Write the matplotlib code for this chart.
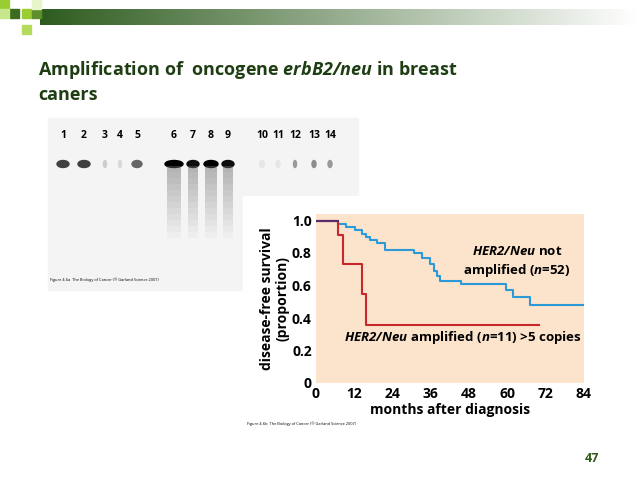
import numpy as np
import matplotlib.pyplot as plt
from matplotlib.patches import Rectangle, Ellipse

# survival data (months, proportion)
blue_t = [0, 7, 9.4, 12.2, 14.3, 15.6, 17, 19, 21.6, 30.7, 33.3, 35.7, 37, 38, 38.8, 45.6, 59.7, 61.8, 67, 84]
blue_s = [1.0, 0.98, 0.96, 0.94, 0.92, 0.90, 0.88, 0.86, 0.82, 0.80, 0.77, 0.73, 0.69, 0.66, 0.63, 0.61, 0.57, 0.53, 0.48, 0.48]
red_t = [0, 7, 8.6, 14.3, 15.6, 69.8]
red_s = [1.0, 0.91, 0.73, 0.55, 0.36, 0.36]
xticks = [0, 12, 24, 36, 48, 60, 72, 84]
yticks = [0, 0.2, 0.4, 0.6, 0.8, 1.0]
ytick_labels = ['0', '0.2', '0.4', '0.6', '0.8', '1.0']

lanes = ['1', '2', '3', '4', '5', '6', '7', '8', '9', '10', '11', '12', '13', '14']
lane_x = [63, 84, 105, 120, 137, 174, 193, 211, 228, 262, 278, 295, 314, 330]
band_w = [12, 12, 3, 3, 10, 18, 12, 14, 12, 5, 4, 3, 4, 4]
band_dark = [0.75, 0.75, 0.2, 0.15, 0.6, 1.0, 0.95, 1.0, 0.95, 0.1, 0.1, 0.4, 0.45, 0.4]

plt.rcParams['font.family'] = ['Open Sans', 'DejaVu Sans']
plt.rcParams['mathtext.fontset'] = 'custom'
plt.rcParams['mathtext.rm'] = 'Open Sans'
plt.rcParams['mathtext.bf'] = 'Open Sans:bold'
plt.rcParams['mathtext.bfit'] = 'Open Sans:italic:bold'
plt.rcParams['mathtext.it'] = 'Open Sans:italic'
W, H = 638, 478
fig = plt.figure(figsize=(W / 100, H / 100), dpi=100)
fig.patch.set_facecolor('white')

# background overlay in pixel coords
bg = fig.add_axes([0, 0, 1, 1])
bg.set_xlim(0, W)
bg.set_ylim(H, 0)
bg.axis('off')

# header gradient bar
grad = np.linspace(0, 1, 256)
cols = np.zeros((1, 256, 3))
c0 = np.array([0.18, 0.36, 0.12])
for i, g in enumerate(grad):
    cols[0, i] = c0 * (1 - g) + np.array([1, 1, 1]) * g
bg.imshow(cols, extent=[40, 638, 25, 9], aspect='auto')
for (x, y, c) in [(0, 0, '#9ACD32'), (10, 9, '#3A6B1E'), (22, 9, '#9ACD32'), (32, 9, '#5E8F2A'),
                  (22, 25, '#B5DB5C'), (32, 0, '#E8F5C8'), (0, 9, '#C8E68A')]:
    bg.add_patch(Rectangle((x, y), 9, 9, color=c))

bg.text(38, 70, 'Amplification of  oncogene $\\mathbfit{erbB2/neu}$ in breast',
        fontsize=13, fontweight='bold', color='#1E3D12', va='center')
bg.text(38, 95, 'caners', fontsize=13, fontweight='bold', color='#1E3D12', va='center')

# blot image
bg.add_patch(Rectangle((48, 118), 310, 172, color='#F4F4F4'))
for lab, x, w, d in zip(lanes, lane_x, band_w, band_dark):
    bg.text(x, 136, lab, fontsize=7.5, fontweight='bold', ha='center', va='center')
    g = 1 - d
    bg.add_patch(Ellipse((x, 164), w, 7, color=(g, g, g)))
    if d > 0.9:
        for k in range(12):
            bg.add_patch(Rectangle((x - w / 2.5, 166 + k * 6), w / 1.25, 6,
                                   color=(0.4, 0.4, 0.4), alpha=0.45 * (1 - k / 12), lw=0))
bg.text(50, 281, 'Figure 4-6a  The Biology of Cancer (© Garland Science 2007)', fontsize=2.8)

# white panel behind chart
bg.add_patch(Rectangle((243, 196), 356, 236, color='white'))
bg.text(247, 425, 'Figure 4-6b  The Biology of Cancer (© Garland Science 2007)', fontsize=2.8)
bg.text(592, 458, '47', fontsize=9, fontweight='bold', color='#2E5C1A', ha='center', va='center')

# survival chart
ax = fig.add_axes([316 / W, 1 - 383 / H, 268 / W, 169 / H])
ax.set_facecolor('#FBE3CC')
ax.step(blue_t, blue_s, where='post', color='#2A9AD8', lw=1.5)
ax.step(red_t, red_s, where='post', color='#C8282A', lw=1.5)
ax.plot([0, 7], [1, 1], color='#5A2A6A', lw=1.5)
ax.set_xlim(0, 84)
ax.set_ylim(0, 1.04)
ax.set_xticks(xticks)
ax.set_yticks(yticks, ytick_labels)
for s in ax.spines.values():
    s.set_visible(False)
ax.tick_params(length=0, labelsize=10, pad=3)
for t in ax.get_xticklabels() + ax.get_yticklabels():
    t.set_fontweight('bold')
ax.set_xlabel('months after diagnosis', fontsize=10, fontweight='bold', labelpad=1)
ax.set_ylabel('disease-free survival\n(proportion)', fontsize=10, fontweight='bold', labelpad=2, linespacing=1.1)
ax.text(63, 0.81, '$\\mathbfit{HER2/Neu}$ not', fontsize=9.5, fontweight='bold', ha='center', va='center')
ax.text(63, 0.69, 'amplified ($\\mathbfit{n}$=52)', fontsize=9.5, fontweight='bold', ha='center', va='center')
ax.text(46, 0.28, '$\\mathbfit{HER2/Neu}$ amplified ($\\mathbfit{n}$=11) >5 copies',
        fontsize=9.5, fontweight='bold', ha='center', va='center')

fig.savefig('out.png', dpi=100)
